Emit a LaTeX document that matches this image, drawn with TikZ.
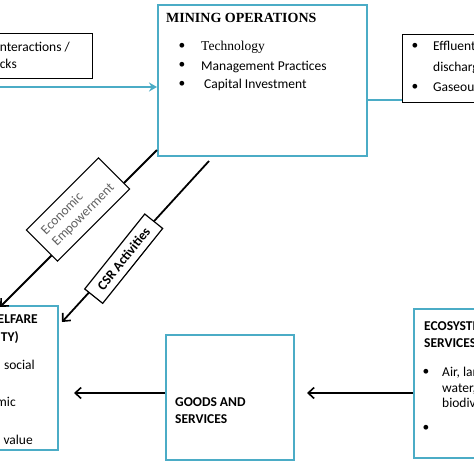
\documentclass[tikz,border=0pt]{standalone}
\usepackage{fontspec}
\setmainfont{Carlito}
\newfontfamily\serifmm{Liberation Serif}
\usetikzlibrary{arrows.meta}
\definecolor{acc}{RGB}{75,172,198}
\begin{document}
\begin{tikzpicture}[x=1pt,y=-1pt,
  bluebox/.style={draw=acc,line width=2pt,inner sep=0pt,fill=white},
  blackbox/.style={draw=black,line width=1.2pt,inner sep=0pt,fill=white},
  txt/.style={font=\fontsize{13.5}{16}\selectfont,inner sep=0pt,anchor=base west},
  txtr/.style={txt,anchor=base east},
  btxt/.style={font=\fontsize{13.5}{16}\selectfont\bfseries,inner sep=0pt,anchor=base west},
  btxtr/.style={btxt,anchor=base east},
  bul/.style={font=\fontsize{13.5}{16}\selectfont,inner sep=0pt,anchor=center},
  blarrow/.style={draw=black,line width=1.8pt,-{Straight Barb[length=6pt,width=11pt,line width=1.6pt]}},
  bluearrow/.style={draw=acc,line width=2pt,-{Stealth[length=8pt,width=9pt]}},
  bluelink/.style={draw=acc,line width=2pt},
  labbox/.style={draw=black,line width=1.2pt,fill=white,inner sep=0pt,font=\fontsize{13.5}{15.5}\selectfont}
]
\useasboundingbox (0,0) rectangle (474,474);
\clip (0,0) rectangle (474,474);

% boxes
\node[blackbox,anchor=north east,minimum width=120pt,minimum height=45pt] (tl) at (93,33) {};
\node[bluebox,anchor=north west,minimum width=209pt,minimum height=151pt] (mine) at (157,4) {};
\node[blackbox,anchor=north west,minimum width=100pt,minimum height=68pt] (eff) at (402,34) {};
\node[bluebox,anchor=north east,minimum width=100pt,minimum height=144pt] (welf) at (59,305) {};
\node[bluebox,anchor=north west,minimum width=128pt,minimum height=125pt] (goods) at (165,334) {};
\node[bluebox,anchor=north west,minimum width=100pt,minimum height=149pt] (eco) at (413,308) {};

% top-left box text
\node[txtr] (tl1) at (70,51) {Interactions /};
\node[txtr] (tl2) at (17,68) {Shocks};

% mining operations
\node[inner sep=0pt,anchor=base west,font=\fontsize{14}{16}\selectfont\serifmm\bfseries] (mt) at (166,22.5) {MINING OPERATIONS};
\node[bul] (mb1) at (182,46.5) {•};
\node[bul] (mb2) at (182,65.5) {•};
\node[bul] (mb3) at (182,84.5) {•};
\node[inner sep=0pt,anchor=base west,font=\fontsize{13.5}{16}\selectfont\serifmm] (m1) at (201,50.5) {Technology};
\node[txt] (m2) at (201,70) {Management Practices};
\node[txt] (m3) at (204,88.5) {Capital Investment};

% effluents
\node[bul] (eb1) at (415,46.5) {•};
\node[bul] (eb2) at (415,87.5) {•};
\node[txt] (e1) at (433,50.5) {Effluent};
\node[txt] (e2) at (433,71) {discharges};
\node[txt] (e3) at (433,91.5) {Gaseous emissions};

% welfare
\node[btxtr] (w1) at (38,323.5) {HUMAN WELFARE};
\node[btxtr] (w2) at (19,341.5) {(COMMUNITY)};
\node[txtr] (w3) at (35,369) {Improved social};
\node[txtr] (w4) at (16,406) {Economic};
\node[txtr] (w5) at (33,444.5) {Added value};

% goods
\node[btxt] (g1) at (175,406.5) {GOODS AND};
\node[btxt] (g2) at (175,423.5) {SERVICES};

% ecosystem
\node[btxt] (c1) at (424,330.5) {ECOSYSTEM};
\node[btxt] (c2) at (424,347.5) {SERVICES};
\node[bul] (cb1) at (426,372) {•};
\node[bul] (cb2) at (426,428) {•};
\node[txt] (c3) at (442,376) {Air, land,};
\node[txt] (c4) at (442,392) {water,};
\node[txt] (c5) at (442,407.5) {biodiversity};

% connectors
\coordinate (inL) at (-5,87);
\draw[bluearrow] (inL) -- (inL -| mine.west);
\coordinate (effY) at (380,100);
\draw[bluelink] (effY -| mine.east) -- (effY -| eff.west);

\coordinate (gtip) at (74,393);
\draw[blarrow] (goods.west |- gtip) -- (gtip);
\coordinate (etip) at (307,393);
\draw[blarrow] (eco.west |- etip) -- (etip);

\coordinate (ee0) at (157,150);
\coordinate (ee1) at (0,307);
\draw[blarrow] (ee0) -- (ee1);
\coordinate (cs0) at (209,161);
\coordinate (cs1) at (62,322);
\draw[blarrow] (cs0) -- (cs1);

\node[labbox,rotate=45,minimum width=102pt,minimum height=44pt,align=left,text=black!62] (econ) at (78,209.5) {Economic\\Empowerment};
\node[labbox,rotate=51.3,minimum width=96pt,minimum height=23pt,font=\fontsize{13.5}{16}\selectfont\bfseries] (csr) at (123.7,258.7) {CSR Activities};
\end{tikzpicture}
\end{document}
